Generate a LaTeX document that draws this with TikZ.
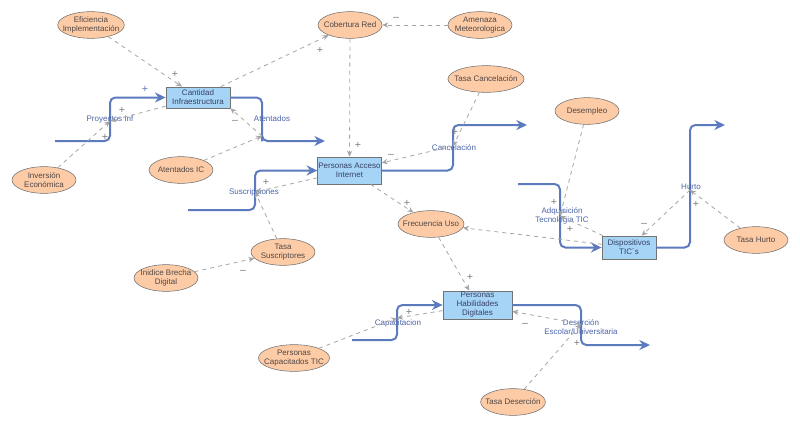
\documentclass[tikz,border=0pt]{standalone}
\usepackage{fontspec}
\setmainfont{Liberation Sans}
\usepackage{tikz}
\usepackage{xcolor}
\usetikzlibrary{shapes.geometric,arrows.meta}

\definecolor{auxfill}{RGB}{253,204,166}
\definecolor{auxline}{RGB}{110,110,110}
\definecolor{auxtext}{RGB}{80,70,70}
\definecolor{stockfill}{RGB}{166,212,247}
\definecolor{stockline}{RGB}{115,115,115}
\definecolor{stocktext}{RGB}{55,65,100}
\definecolor{flowblue}{RGB}{92,122,190}
\definecolor{flowtext}{RGB}{75,100,170}
\definecolor{linkgray}{RGB}{165,165,165}
\definecolor{signgray}{RGB}{125,125,125}

\tikzset{
  aux/.style={ellipse,draw=auxline,fill=auxfill,minimum width=48pt,minimum height=20pt,inner xsep=-3.5pt,inner ysep=-2pt,align=center,text=auxtext,font=\fontsize{6}{7}\selectfont},
  stock/.style={rectangle,draw=stockline,line width=0.6pt,fill=stockfill,inner sep=0.5pt,align=center,text=stocktext,font=\fontsize{6}{6.8}\selectfont},
  flow/.style={draw=flowblue,line width=1.5pt,rounded corners=4pt,-{Stealth[length=8pt,width=7.5pt]}},
  flowlbl/.style={inner sep=0.5pt,align=center,text=flowtext,font=\fontsize{6}{7}\selectfont},
  link/.style={draw=linkgray,dashed,line width=0.6pt,-{Stealth[length=4.5pt,width=4pt]}},
  sign/.style={inner sep=0pt,text=signgray,font=\fontsize{8}{8}\selectfont}
}

\begin{document}
\begin{tikzpicture}[x=0.75pt,y=0.75pt,yscale=-1,xscale=1]
\useasboundingbox (0,0) rectangle (800,422);

%Shape: Ellipse
\node[aux] (efic) at (91,25) {Eficiencia\\Implementación};
\node[aux] (cobert) at (350,25) {Cobertura Red};
\node[aux] (amenaza) at (480,25) {Amenaza\\Meteorologica};
\node[aux] (tcancel) at (486,79) {Tasa Cancelación};
\node[aux] (desemp) at (587,111) {Desempleo};
\node[aux] (inversion) at (44,180) {Inversión\\Económica};
\node[aux] (atentIC) at (181,170) {Atentados IC};
\node[aux] (frecuso) at (431,224) {Frecuencia Uso};
\node[aux] (tsusc) at (283,252) {Tasa\\Suscriptores};
\node[aux] (brecha) at (166,278) {Inidice Brecha\\Digital};
\node[aux] (thurto) at (756,240) {Tasa Hurto};
\node[aux] (pcapac) at (294,358) {Personas\\Capacitados TIC};
\node[aux] (tdesercion) at (513,402) {Tasa Deserción};

%Shape: Rectangle
\node[stock,minimum width=48pt,minimum height=15.75pt] (infra) at (198,97.5) {Cantidad\\Infraestructura};
\node[stock,minimum width=44.25pt,minimum height=20.25pt] (acceso) at (349.5,170.5) {Personas Acceso\\Internet};
\node[stock,minimum width=40.5pt,minimum height=17.25pt] (disp) at (629,247.5) {Dispositivos\\TIC´s};
\node[stock,minimum width=51.75pt,minimum height=21pt] (habil) at (477.5,305) {Personas\\Habilidades\\Digitales};

% valves and free ends
\coordinate (vProy) at (110,121);
\coordinate (vAtent) at (262,136);
\coordinate (vSusc) at (255,192);
\coordinate (vCancel) at (453,146);
\coordinate (vAdq) at (560,216);
\coordinate (vHurto) at (690,190);
\coordinate (vCap) at (397,318);
\coordinate (vDes) at (581,324);
\coordinate (srcProy) at (55,141);
\coordinate (snkAtent) at (325,141);
\coordinate (srcSusc) at (188,210);
\coordinate (snkCancel) at (527,125);
\coordinate (srcAdq) at (518,184);
\coordinate (snkHurto) at (725,125);
\coordinate (srcCap) at (352,340);
\coordinate (snkDes) at (650,345);

%Flows
\draw[flow] (srcProy) -| (vProy) |- (infra.west);
\draw[flow] (infra.east) -| (vAtent) |- (snkAtent);
\draw[flow] (srcSusc) -| (vSusc) |- (acceso.west);
\draw[flow] (acceso.east) -| (vCancel) |- (snkCancel);
\draw[flow] (srcAdq) -| (vAdq) |- (disp.west);
\draw[flow] (disp.east) -| (vHurto) |- (snkHurto);
\draw[flow] (srcCap) -| (vCap) |- (habil.west);
\draw[flow] (habil.east) -| (vDes) |- (snkDes);

% Text Node
\node[flowlbl] (proyectos) at (110,119) {Proyectos Inf};
\node[flowlbl] (atentados) at (272,119) {Atentados};
\node[flowlbl] (suscrip) at (254,192) {Suscripciones};
\node[flowlbl] (cancel) at (454,148) {Cancelación};
\node[flowlbl] (adquis) at (562,216) {Adquisición\\Tecnologia TIC};
\node[flowlbl] (hurto) at (691,187) {Hurto};
\node[flowlbl] (capacit) at (398,323) {Capacitacion};
\node[flowlbl] (desercion) at (581,327) {Deserción\\Escolar/Universitaria};

%Straight Lines
\draw[link] (efic) -- (infra);
\draw[link] (infra) -- (cobert);
\draw[link] (inversion) -- (vProy);
\draw[link] (infra) -- (vProy);
\draw[link] (vAtent) -- (infra.south east);
\draw[link] (atentIC) -- (vAtent);
\draw[link] (cobert) -- (acceso);
\draw[link] (amenaza) -- (cobert);
\draw[link] (tcancel) -- (vCancel);
\draw[link] (vCancel) -- (acceso);
\draw[link] (acceso) -- (vSusc);
\draw[link] (tsusc) -- (vSusc);
\draw[link] (brecha) -- (tsusc);
\draw[link] (acceso) -- (frecuso);
\draw[link] (frecuso) -- (habil);
\draw[link] (disp) -- (frecuso);
\draw[link] (desemp) -- (vAdq);
\draw[link] (disp) -- (vAdq);
\draw[link] (vHurto) -- (disp);
\draw[link] (thurto) -- (vHurto);
\draw[link] (habil) -- (vCap);
\draw[link] (pcapac) -- (vCap);
\draw[link] (vDes) -- (habil);
\draw[link] (tdesercion) -- (vDes);

% signs
\node[sign,text=flowblue] (sProyFlow) at (145,89) {+};
\node[sign] (sEfic) at (175,74) {+};
\node[sign] (sCobert) at (320,50) {+};
\node[sign] (sInver) at (105,137) {+};
\node[sign] (sInfraProy) at (122,110) {+};
\node[sign] (sAtent) at (235,122) {–};
\node[sign] (sCobAcc) at (358,145) {+};
\node[sign] (sAmen) at (396,19) {–};
\node[sign] (sTCancel) at (455,132) {+};
\node[sign] (sCancel) at (391,156) {–};
\node[sign] (sSusc) at (266,182) {+};
\node[sign] (sBrecha) at (243,272) {–};
\node[sign] (sFrec) at (407,203) {+};
\node[sign] (sHabil) at (470,277) {+};
\node[sign] (sDesemp) at (554,202) {+};
\node[sign] (sDispAdq) at (570,229) {+};
\node[sign] (sHurto) at (644,225) {–};
\node[sign] (sTHurto) at (696,204) {+};
\node[sign] (sCap) at (409,312) {+};
\node[sign] (sDes) at (525,325) {–};
\node[sign] (sTDes) at (577,343) {+};

\end{tikzpicture}
\end{document}
